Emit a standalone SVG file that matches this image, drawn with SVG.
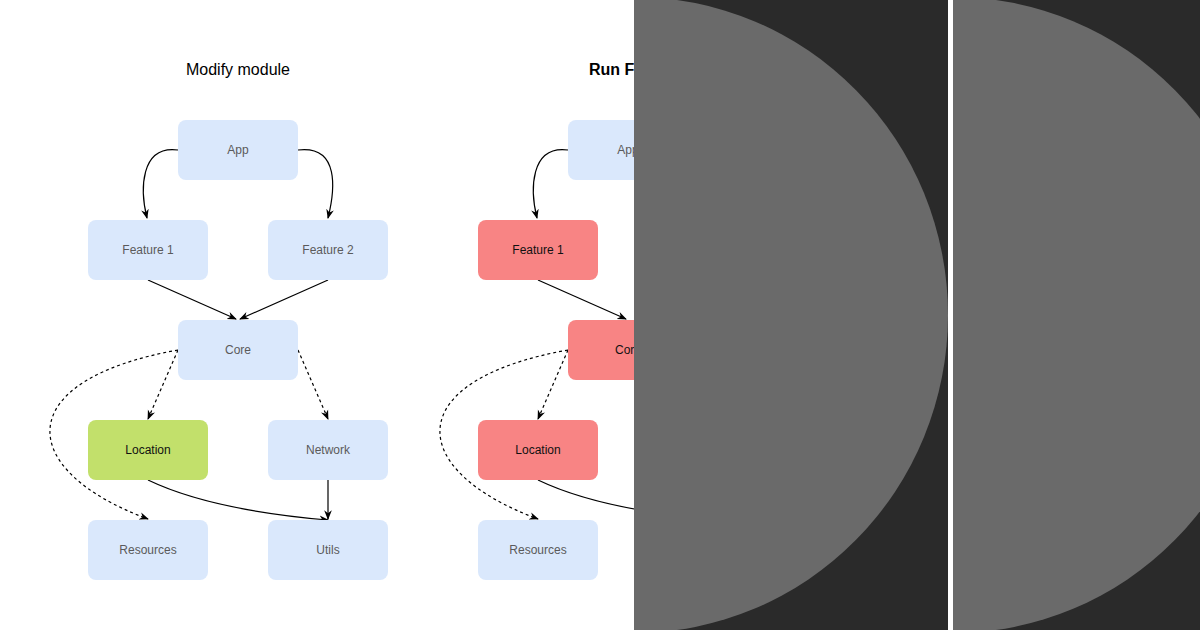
<svg xmlns="http://www.w3.org/2000/svg" width="1200" height="630" viewBox="0 0 1200 630">
<defs>
<style>
.n{fill:#dae8fc}
.r{fill:#f88484}
.g{fill:#c2e06b}
.t{font-family:"Liberation Sans",Arial,sans-serif;font-size:12px;fill:#5a5a5a;text-anchor:middle;dominant-baseline:central}
.k{fill:#111}
.e{fill:none;stroke:#000;stroke-width:1.2;marker-end:url(#a)}
.d{stroke-dasharray:3 3}
.h{font-family:"Liberation Sans",Arial,sans-serif;font-size:16px;fill:#000}
</style>
<marker id="a" viewBox="0 0 10 10" refX="9" refY="5" markerWidth="8" markerHeight="8" orient="auto-start-reverse"><path d="M0,1 L10,5 L0,9 L3,5 Z" fill="#000"/></marker>
</defs>
<rect width="1200" height="630" fill="#fff"/>
<text class="h" x="238" y="75" text-anchor="middle">Modify module</text>
<text class="h" x="589" y="75" font-weight="bold">Run F</text>
<g id="edges">
<path class="e" d="M178,150 C140,145 140,190 147,218"/>
<path class="e" d="M298,150 C340,145 335,190 328,218"/>
<path class="e" d="M148,280 L236,319"/>
<path class="e" d="M328,280 L240,319"/>
<path class="e d" d="M178,350 L148,419"/>
<path class="e d" d="M298,350 L328,419"/>
<path class="e d" d="M178,350 C10,380 15,470 148,519"/>
<path class="e" d="M148,480 C200,505 270,515 328,520"/>
<path class="e" d="M328,480 L328,519"/>
<path class="e" d="M568,150 C530,145 530,190 537,218"/>
<path class="e" d="M538,280 L626,319"/>
<path class="e d" d="M568,350 L538,419"/>
<path class="e d" d="M568,350 C400,380 405,470 538,519"/>
<path class="e" d="M538,480 C590,505 660,515 718,520"/>
</g>
<g id="app"><rect class="n" x="178" y="120" width="120" height="60" rx="8"/><text class="t" x="238" y="150">App</text></g>
<g id="feature1"><rect class="n" x="88" y="220" width="120" height="60" rx="8"/><text class="t" x="148" y="250">Feature 1</text></g>
<g id="feature2"><rect class="n" x="268" y="220" width="120" height="60" rx="8"/><text class="t" x="328" y="250">Feature 2</text></g>
<g id="core"><rect class="n" x="178" y="320" width="120" height="60" rx="8"/><text class="t" x="238" y="350">Core</text></g>
<g id="location"><rect class="g" x="88" y="420" width="120" height="60" rx="8"/><text class="t k" x="148" y="450">Location</text></g>
<g id="network"><rect class="n" x="268" y="420" width="120" height="60" rx="8"/><text class="t" x="328" y="450">Network</text></g>
<g id="resources"><rect class="n" x="88" y="520" width="120" height="60" rx="8"/><text class="t" x="148" y="550">Resources</text></g>
<g id="utils"><rect class="n" x="268" y="520" width="120" height="60" rx="8"/><text class="t" x="328" y="550">Utils</text></g>
<g id="app2"><rect class="n" x="568" y="120" width="120" height="60" rx="8"/><text class="t" x="628" y="150">App</text></g>
<g id="feature1b"><rect class="r" x="478" y="220" width="120" height="60" rx="8"/><text class="t k" x="538" y="250">Feature 1</text></g>
<g id="core2"><rect class="r" x="568" y="320" width="120" height="60" rx="8"/><text class="t k" x="628" y="350">Core</text></g>
<g id="location2"><rect class="r" x="478" y="420" width="120" height="60" rx="8"/><text class="t k" x="538" y="450">Location</text></g>
<g id="resources2"><rect class="n" x="478" y="520" width="120" height="60" rx="8"/><text class="t" x="538" y="550">Resources</text></g>
<clipPath id="c1"><rect x="634" y="0" width="314" height="630"/></clipPath>
<clipPath id="c2"><rect x="953" y="0" width="247" height="630"/></clipPath>
<rect x="634" y="0" width="314" height="630" fill="#2a2a2a"/>
<ellipse cx="634" cy="315" rx="314" ry="318" fill="#6a6a6a" clip-path="url(#c1)"/>
<rect x="948" y="0" width="5" height="630" fill="#fff"/>
<rect x="953" y="0" width="247" height="630" fill="#2a2a2a"/>
<ellipse cx="953" cy="315" rx="314" ry="318" fill="#6a6a6a" clip-path="url(#c2)"/>
</svg>
